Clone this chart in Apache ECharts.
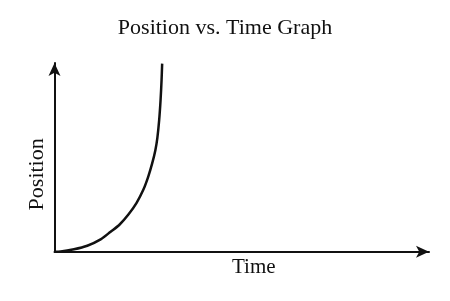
<!DOCTYPE html>
<html>
<head>
<meta charset="utf-8">
<script src="https://cdn.jsdelivr.net/npm/echarts@6/dist/echarts.min.js"></script>
<style>html,body{margin:0;padding:0;background:#fff;}#c{width:450px;height:301px;}</style>
</head>
<body>
<div id="c"></div>
<script>
var titleText = 'Position vs. Time Graph';
var xName = 'Time';
var yName = 'Position';
var timeValues = [0, 6.2, 19.5, 32.8, 46.2, 56.2, 65, 73.8, 82.2, 88.8, 93.8, 97.8, 101, 103, 104.8, 106.2, 107.2, 107.8];
var positionValues = [0, 0.2, 2.4, 6, 12.4, 20, 27, 37, 49, 61.7, 75, 88.4, 101.7, 114, 131.7, 151.7, 171.7, 188.4];

var chart = echarts.init(document.getElementById('c'), null, {renderer: 'canvas'});
var pts = timeValues.map(function (t, i) { return [t, positionValues[i]]; });
var serif = '"Liberation Serif", "DejaVu Serif", serif';
chart.setOption({
  animation: false,
  backgroundColor: '#ffffff',
  title: {
    text: titleText,
    left: 'center',
    top: 12,
    textStyle: {fontFamily: serif, fontSize: 22, fontWeight: 'normal', color: '#111'}
  },
  grid: {left: 54.5, right: 21, top: 63, bottom: 49.3},
  xAxis: {
    type: 'value', min: 0, max: 375,
    name: xName, nameLocation: 'middle', nameGap: 5,
    nameTextStyle: {fontFamily: serif, fontSize: 21, color: '#111', padding: [0, 0, 0, 24]},
    axisLine: {show: true, symbol: ['none', 'arrow'], symbolSize: [9, 13], lineStyle: {color: '#111', width: 2}},
    axisTick: {show: false}, axisLabel: {show: false}, splitLine: {show: false}
  },
  yAxis: {
    type: 'value', min: 0, max: 189,
    name: yName, nameLocation: 'middle', nameGap: 6,
    nameTextStyle: {fontFamily: serif, fontSize: 22, color: '#111', padding: [0, 34, 0, 0]},
    axisLine: {show: true, symbol: ['none', 'arrow'], symbolSize: [9, 13], lineStyle: {color: '#111', width: 2}},
    axisTick: {show: false}, axisLabel: {show: false}, splitLine: {show: false}
  },
  series: [{
    type: 'line', data: pts, smooth: 0.3, showSymbol: false, symbol: 'none',
    lineStyle: {color: '#111', width: 2.5}
  }]
});
</script>
</body>
</html>
